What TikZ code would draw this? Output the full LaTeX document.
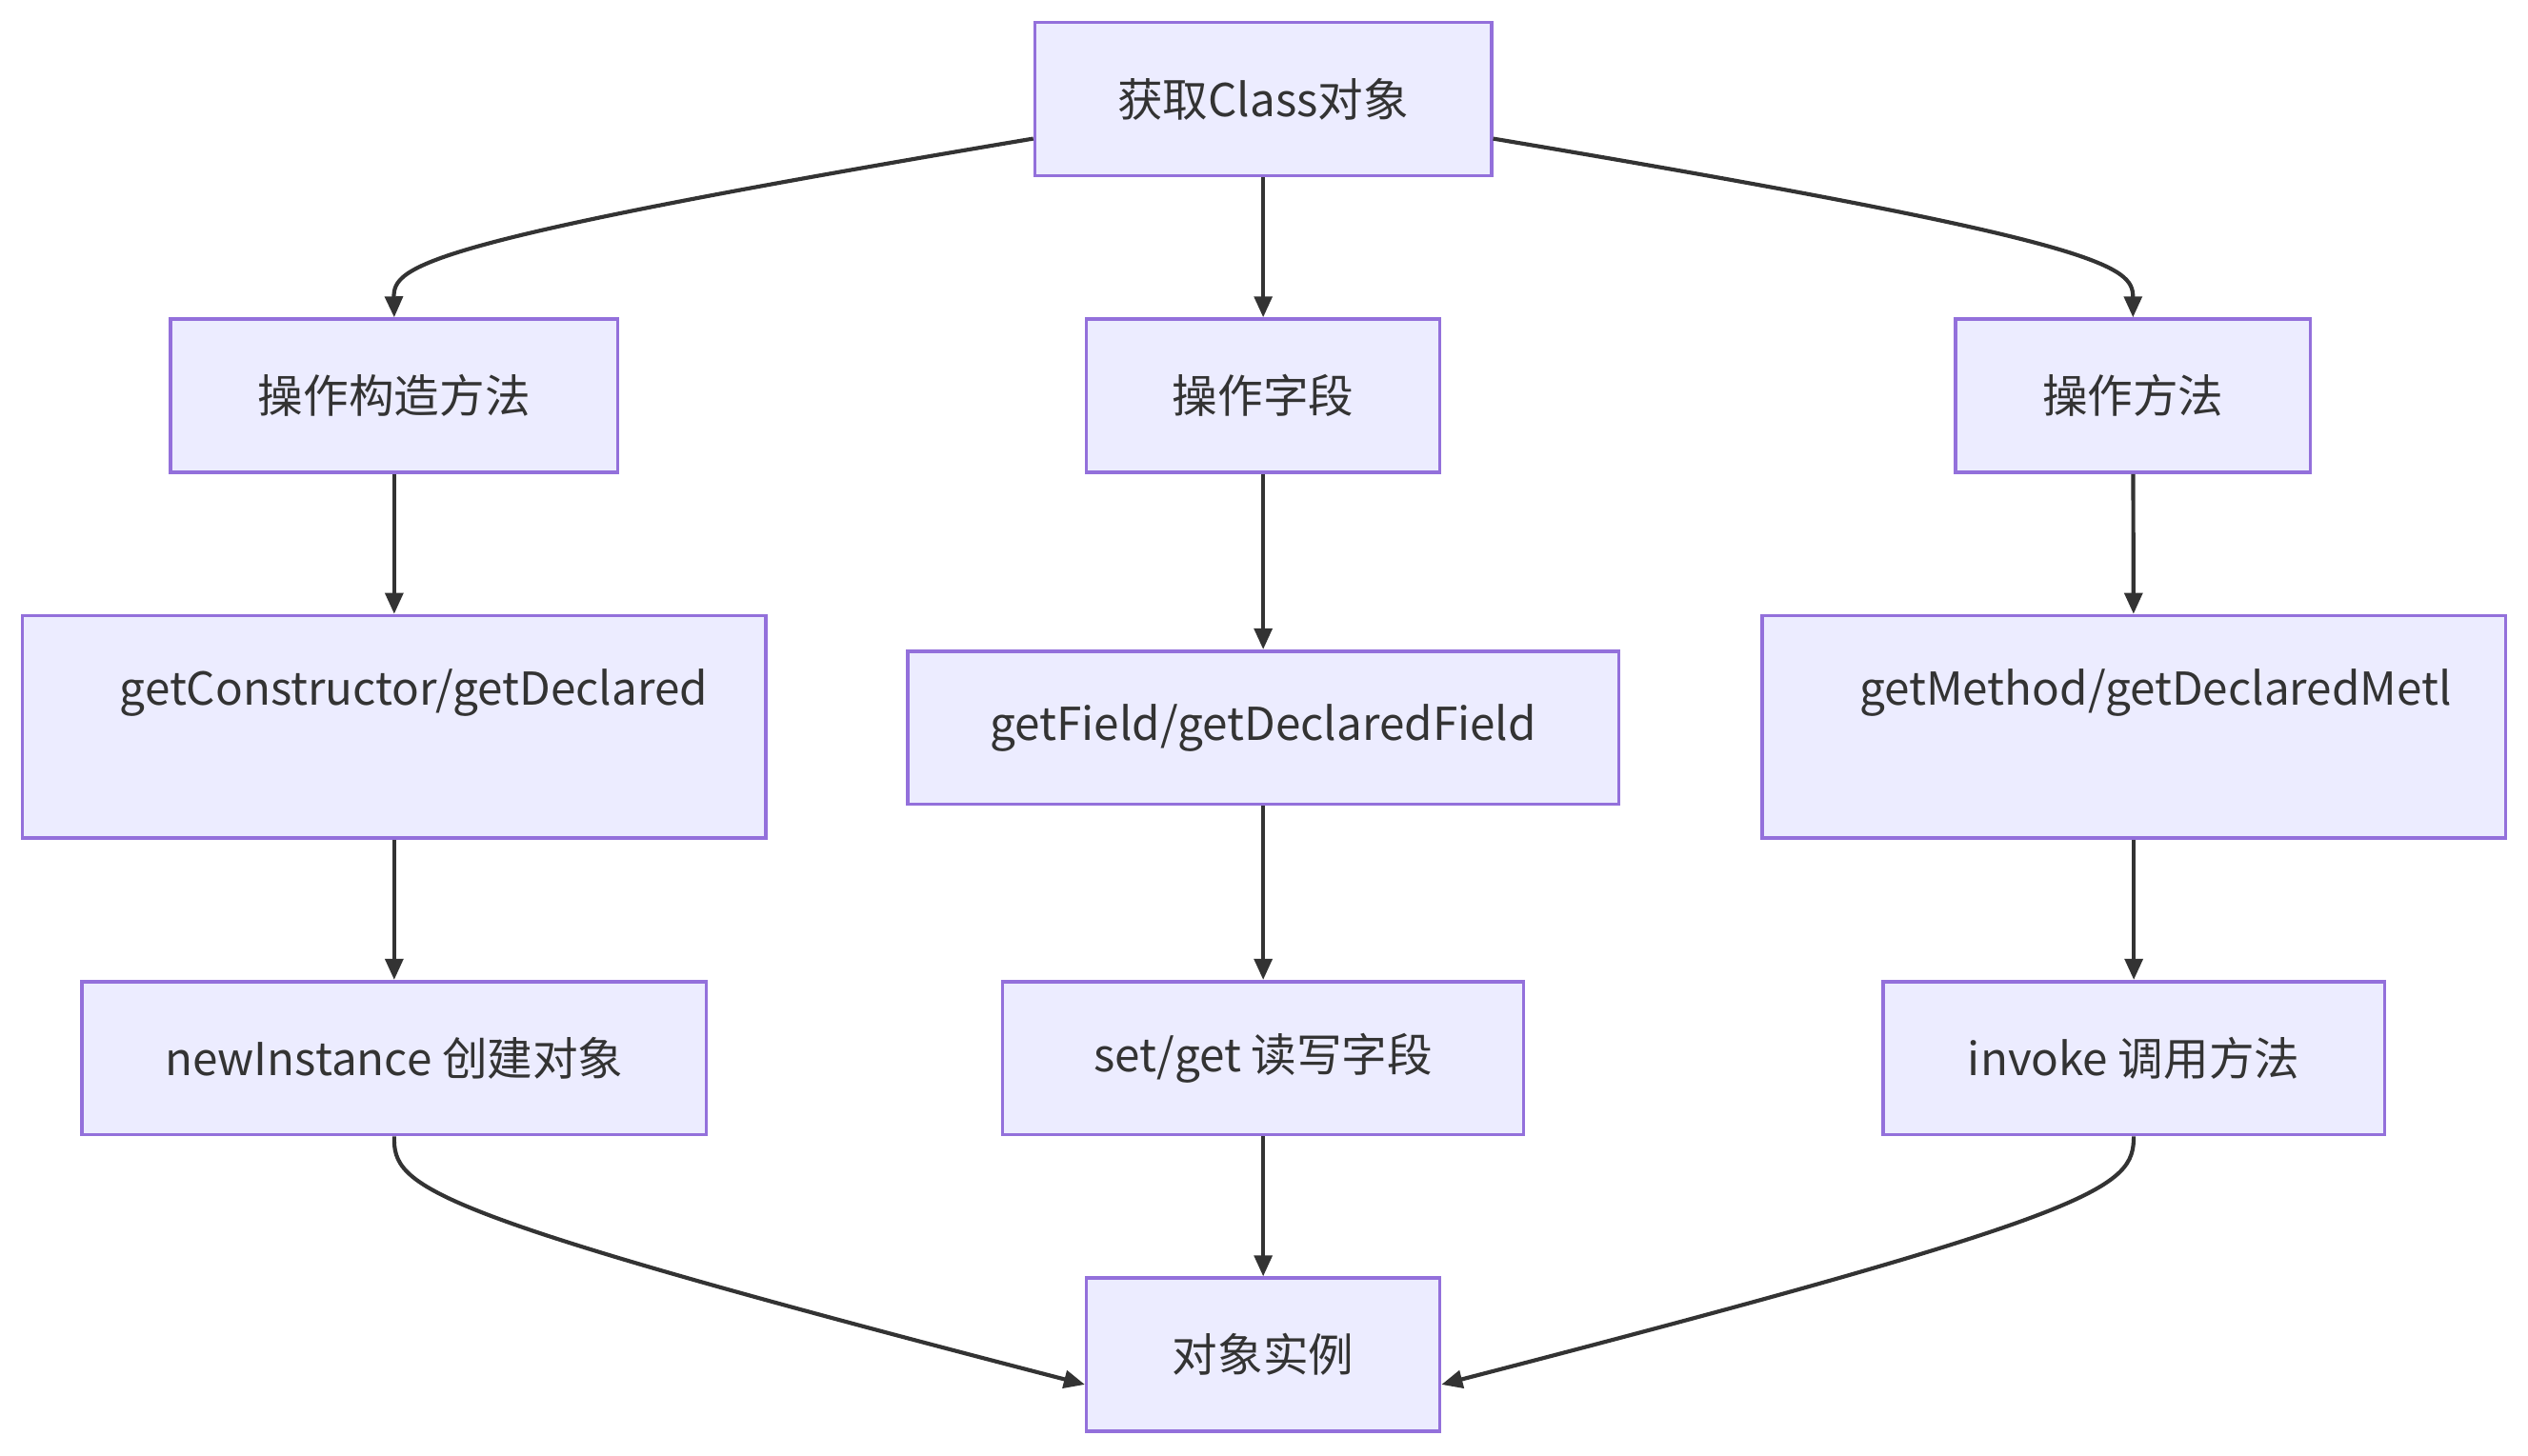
\documentclass[tikz,border=0pt]{standalone}
\usepackage{fontspec}
\setmainfont{Noto Sans CJK SC}
\usetikzlibrary{arrows.meta}
\definecolor{nfill}{HTML}{ECECFF}
\definecolor{nline}{HTML}{9370DB}
\definecolor{eline}{HTML}{333333}
\begin{document}
\begin{tikzpicture}[x=0.01cm,y=-0.01cm,
  box/.style={draw=nline,fill=nfill,line width=0.6pt,inner sep=0pt,font=\fontsize{8}{10}\selectfont,text=eline},
  lbl/.style={font=\fontsize{8}{10}\selectfont,text=eline},
  edge/.style={draw=eline,line width=0.7pt,-{Triangle[length=0.13cm,width=0.11cm]}}]
\useasboundingbox (0,0) rectangle (1568,903);
\fill[white] (0,0) rectangle (1568,903);
\node[box,minimum width=2.83cm,minimum height=0.95cm] (top) at (783.5,61.5) {获取Class对象};
\node[box,minimum width=2.77cm,minimum height=0.95cm] (ca) at (244.5,245.5) {操作构造方法};
\node[box,minimum width=2.19cm,minimum height=0.95cm] (fa) at (783.5,245.5) {操作字段};
\node[box,minimum width=2.20cm,minimum height=0.95cm] (ma) at (1323,245.5) {操作方法};
\node[box,minimum width=4.61cm,minimum height=1.38cm] (cb) at (244.5,451) {};
\node[box,minimum width=4.41cm,minimum height=0.95cm] (fb) at (783.5,451.5) {getField/getDeclaredField};
\node[box,minimum width=4.61cm,minimum height=1.38cm] (mb) at (1323.5,451) {};
\node[box,minimum width=3.87cm,minimum height=0.95cm] (cc) at (244.5,656.5) {newInstance 创建对象};
\node[box,minimum width=3.23cm,minimum height=0.95cm] (fc) at (783.5,656.5) {set/get 读写字段};
\node[box,minimum width=3.11cm,minimum height=0.95cm] (mc) at (1323.5,656.5) {invoke 调用方法};
\node[box,minimum width=2.19cm,minimum height=0.95cm] (obj) at (783.5,840.5) {对象实例};
\node[lbl,anchor=west] (tcb) at (62,430) {getConstructor/getDeclared};
\node[lbl,anchor=west] (tmb) at (1141,430) {getMethod/getDeclaredMetl};
\draw[edge] ([yshift=-0.245cm]top.west) .. controls (260,150) and (244,165) .. (ca.north);
\draw[edge] (top) -- (fa);
\draw[edge] ([yshift=-0.245cm]top.east) .. controls (1307,150) and (1323,165) .. (ma.north);
\draw[edge] (ca) -- (cb);
\draw[edge] (fa) -- (fb);
\draw[edge] (ma) -- (mb);
\draw[edge] (cb) -- (cc);
\draw[edge] (fb) -- (fc);
\draw[edge] (mb) -- (mc);
\draw[edge] (cc.south) .. controls (244,737) and (260,752) .. ([yshift=-0.185cm]obj.west);
\draw[edge] (fc) -- (obj);
\draw[edge] (mc.south) .. controls (1323,737) and (1307,752) .. ([yshift=-0.185cm]obj.east);
\end{tikzpicture}
\end{document}
